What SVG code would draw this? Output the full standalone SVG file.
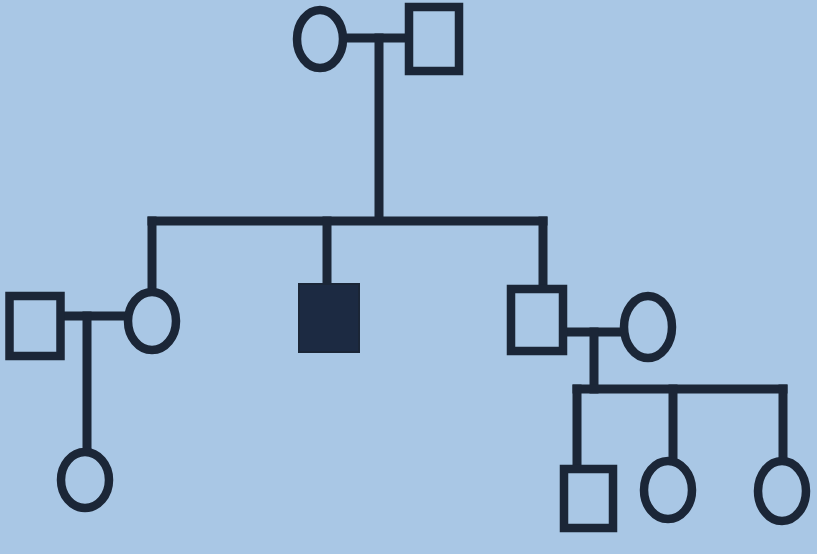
<svg xmlns="http://www.w3.org/2000/svg" width="817" height="554" viewBox="0 0 817 554">
<style>
.ln{stroke:#1b2637;stroke-width:9;fill:none;stroke-linecap:square}
.sh{stroke:#1b2637;stroke-width:8.5;fill:none}
.aff{fill:#1c2a42;stroke:#1b2637;stroke-width:2}
</style>
<rect x="0" y="0" width="817" height="554" fill="#a9c7e5"/>
<g id="connectors">
<path class="ln" d="M348 38 H405"/>
<path class="ln" d="M379 38 V219"/>
<path class="ln" d="M152 221 H543"/>
<path class="ln" d="M152 221 V288"/>
<path class="ln" d="M327 221 V283"/>
<path class="ln" d="M543 221 V285"/>
<path class="ln" d="M65 316 H123"/>
<path class="ln" d="M87 316 V448"/>
<path class="ln" d="M567 332 H620"/>
<path class="ln" d="M594 332 V389"/>
<path class="ln" d="M577 389 H783"/>
<path class="ln" d="M577 389 V465"/>
<path class="ln" d="M673 389 V457"/>
<path class="ln" d="M783 389 V457"/>
</g>
<g id="gp-female"><ellipse class="sh" cx="320" cy="39" rx="23" ry="29"/></g>
<g id="gp-male"><rect class="sh" x="409" y="7" width="50" height="64"/></g>
<g id="p1-male"><rect class="sh" x="9.5" y="296" width="51" height="60"/></g>
<g id="p1-female"><ellipse class="sh" cx="152" cy="321" rx="24" ry="29"/></g>
<g id="p2-affected-male"><rect class="aff" x="299" y="284" width="60" height="68"/></g>
<g id="p3-male"><rect class="sh" x="511" y="289" width="52" height="62"/></g>
<g id="p3-female"><ellipse class="sh" cx="648" cy="327" rx="24" ry="31"/></g>
<g id="c1-female"><ellipse class="sh" cx="85" cy="480" rx="24" ry="28"/></g>
<g id="c2-male"><rect class="sh" x="564" y="469" width="49" height="59"/></g>
<g id="c3-female"><ellipse class="sh" cx="668" cy="490" rx="24" ry="29"/></g>
<g id="c4-female"><ellipse class="sh" cx="782" cy="491" rx="24" ry="30"/></g>
</svg>
